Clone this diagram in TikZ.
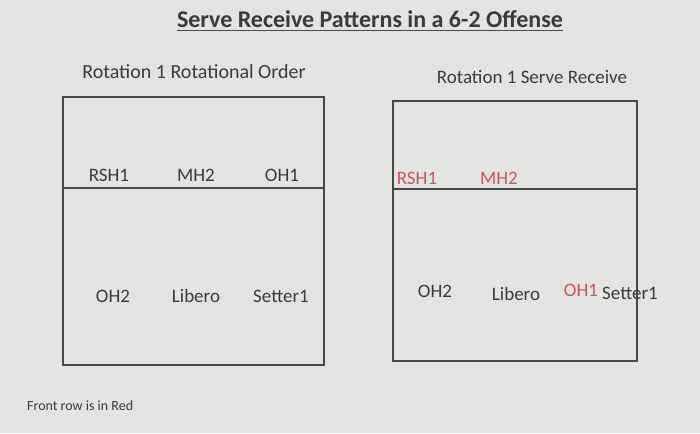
\documentclass[tikz,border=0pt]{standalone}
\usepackage{fontspec}
\setmainfont{Carlito}
\usepackage{xcolor}
\usepackage{tikz}
\definecolor{bg}{HTML}{E3E3E1}
\definecolor{ink}{HTML}{3A3A3A}
\definecolor{line}{HTML}{484848}
\definecolor{front}{HTML}{C4565A}
\tikzset{
  court/.style={draw=line, line width=1.3pt},
  net/.style={draw=line, line width=1.3pt},
  player/.style={text=ink, font=\fontsize{19}{22}\selectfont, inner sep=0pt},
  frontp/.style={player, text=front},
  head/.style={text=ink, font=\fontsize{20}{23}\selectfont, inner sep=0pt},
  title/.style={text=ink, font=\bfseries\fontsize{24}{27}\selectfont, inner sep=0pt},
  note/.style={text=ink, font=\fontsize{14}{16}\selectfont, inner sep=0pt, anchor=west}
}
\begin{document}
\begin{tikzpicture}[x=1pt,y=-1pt]
  \fill[bg] (0,0) rectangle (700,433);
  \useasboundingbox (0,0) rectangle (700,433);
  % title
  \node[title] (title) at (370,19) {Serve Receive Patterns in a 6-2 Offense};
  \draw[line, line width=1.2pt] ([yshift=-3pt]title.south west) -- ([yshift=-3pt]title.south east);
  % left court: rotational order
  \node[head] (headL) at (194,72) {Rotation 1 Rotational Order};
  \draw[court] (63,97) rectangle (324,365);
  \draw[net] (63,188) -- (324,188);
  \node[player] (rshL) at (109,175) {RSH1};
  \node[player] (mhL) at (196,175) {MH2};
  \node[player] (ohaL) at (282,175) {OH1};
  \node[player] (ohbL) at (113,296) {OH2};
  \node[player] (libL) at (196,296) {Libero};
  \node[player] (setL) at (281,296) {Setter1};
  % right court: serve receive
  \node[head, font=\fontsize{19}{22}\selectfont] (headR) at (532,77) {Rotation 1 Serve Receive};
  \draw[court] (393,101) rectangle (637,361);
  \draw[net] (393,189) -- (637,189);
  \node[frontp] (rshR) at (417,178) {RSH1};
  \node[frontp] (mhR) at (499,178) {MH2};
  \node[player] (ohbR) at (435,291) {OH2};
  \node[player] (libR) at (516,294) {Libero};
  \node[frontp] (ohaR) at (581,290) {OH1};
  \node[player] (setR) at (630,293) {Setter1};
  % legend
  \node[note] (legend) at (27,406) {Front row is in Red};
\end{tikzpicture}
\end{document}
